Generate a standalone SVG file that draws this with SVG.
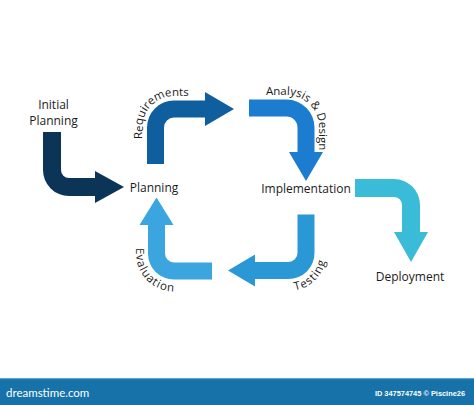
<svg xmlns="http://www.w3.org/2000/svg" width="474" height="405" viewBox="0 0 474 405">
<style>
.lbl{font-family:"Open Sans","Noto Sans","DejaVu Sans",sans-serif;font-size:12px;fill:#1b1b1b;text-anchor:middle}
.arc{font-family:"Open Sans","Noto Sans","DejaVu Sans",sans-serif;font-size:11.5px;fill:#1b1b1b}
.sp{letter-spacing:1px}
</style>
<defs>
<path id="pReq" d="M142.5,139 V127.5 A31.5,31.5 0 0 1 174,96 H195"/>
<path id="pAna" d="M266,95 H286.5 A32.5,32.5 0 0 1 319,127.5 V160"/>
<path id="pEva" d="M136,248 V253.5 A38,38 0 0 0 174,291.5 H195"/>
<path id="pTes" d="M295,290.4 A38,38 0 0 0 326.5,253 V240"/>
</defs>
<rect width="474" height="405" fill="#ffffff"/>
<g id="connectors">
<path id="arrow-initial" fill="#0c3457" d="M43,132 H61 V170 A8,8 0 0 0 69,178 H95 V171 L124,187 L95,203 V196 H69 A26,26 0 0 1 43,170 Z"/>
<path id="arrow-requirements" fill="#0f5f9e" d="M147,164 V127.5 A27,27 0 0 1 174,100.5 H205 V92 L234,109 L205,126 V117.5 H174 A10,10 0 0 0 164,127.5 V164 Z"/>
<path id="arrow-analysis" fill="#1c7ccf" d="M249,99.5 H286.5 A28,28 0 0 1 314.5,127.5 V152 H323 L306,181 L289,152 H297.5 V127.5 A11,11 0 0 0 286.5,116.5 H249 Z"/>
<path id="arrow-deployment" fill="#3abcd9" d="M355,179 H394 A26,26 0 0 1 420,205 V232 H428 L411,262 L394,232 H402 V205 A8,8 0 0 0 394,197 H355 Z"/>
<path id="arrow-testing" fill="#2b98d6" d="M314.5,214.5 V253 A26,26 0 0 1 288.5,279 H255 V286.5 L228,270.5 L255,254.5 V262 H288.5 A9,9 0 0 0 297.5,253 V214.5 Z"/>
<path id="arrow-evaluation" fill="#3aa5de" d="M212,262.5 H174 A9,9 0 0 1 165,253.5 V225 H173.5 L156.5,197.5 L139.5,225 H148 V253.5 A26,26 0 0 0 174,279.5 H212 Z"/>
<text class="arc"><textPath href="#pReq">Requirements</textPath></text>
<text class="arc"><textPath href="#pAna">Analysis &amp; Design</textPath></text>
<text class="arc sp"><textPath href="#pEva">Evaluation</textPath></text>
<text class="arc sp"><textPath href="#pTes">Testing</textPath></text>
</g>
<g id="node-initial-planning">
<text class="lbl" x="53.5" y="108.5">Initial</text>
<text class="lbl" x="53.5" y="124.5">Planning</text>
</g>
<g id="node-planning"><text class="lbl" x="154" y="192">Planning</text></g>
<g id="node-implementation"><text class="lbl" x="306" y="192.5">Implementation</text></g>
<g id="node-deployment"><text class="lbl" x="410" y="281">Deployment</text></g>
<g id="banner">
<rect x="0" y="378" width="474" height="27" fill="#1672a9"/>
<rect x="0" y="378" width="474" height="1.2" fill="#5ba3d3"/>
<text x="6" y="397" font-family="Lato,'Open Sans',sans-serif" font-size="11.5" fill="#ffffff">dreamstime.com</text>
<text x="465" y="395.5" font-family="'Liberation Sans',Arial,sans-serif" font-size="7.4" font-weight="bold" fill="#ffffff" text-anchor="end">ID 347574745 © Piscine26</text>
</g>
</svg>
